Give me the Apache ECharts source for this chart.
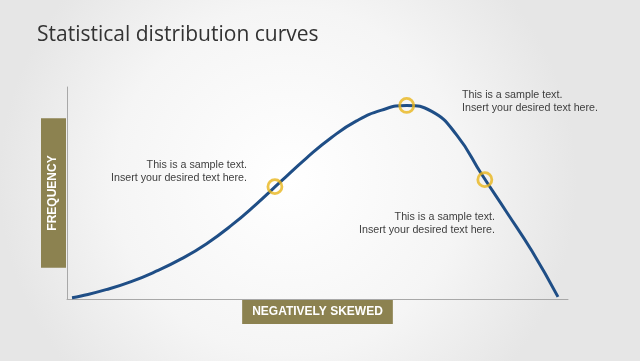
<!DOCTYPE html>
<html><head><meta charset="utf-8">
<script src="https://cdn.jsdelivr.net/npm/echarts@6/dist/echarts.min.js"></script>
<style>html,body{margin:0;padding:0;}#c{width:640px;height:361px;}</style>
</head><body><div id="c"></div>
<script>
const titleText = 'Statistical distribution curves';
const xAxisName = 'NEGATIVELY SKEWED';
const yAxisName = 'FREQUENCY';
// curve samples (x: value along axis 0-100, y: frequency 0-100)
const curveX = [1, 2.8, 7.8, 12.8, 17.8, 22.8, 27.8, 32.8, 37.8, 42.8, 47.8, 52.8, 57.8, 62.8, 67.8, 72.8, 77.8, 82.8, 87.8, 92.8, 98];
const curveY = [0.6, 1.4, 4.4, 8.2, 13.1, 18.9, 26.0, 34.7, 44.8, 55.7, 66.5, 76.2, 84.0, 89.1, 91.3, 88.5, 77.3, 58.7, 40.8, 22.6, 1.0];
// highlighted points
const markX = [41.5, 67.8, 83.4];
const markY = [53.0, 91.3, 56.3];
const noteLine1 = 'This is a sample text.';
const noteLine2 = 'Insert your desired text here.';

const chart = echarts.init(document.getElementById('c'), null, {renderer: 'canvas'});
const olive = '#8c8250';
const noteStyle = {fontFamily: 'Liberation Sans, Arial', fontSize: 10.7, fill: '#404040', lineHeight: 13};
chart.setOption({
  backgroundColor: {
    type: 'radial', x: 0.45, y: 0.5, r: 0.8,
    colorStops: [{offset: 0, color: '#ffffff'}, {offset: 0.6, color: '#f5f5f5'}, {offset: 1, color: '#e6e6e6'}]
  },
  animation: false,
  title: {
    text: titleText, left: 32, top: 20,
    textStyle: {fontFamily: 'Open Sans', fontWeight: 'normal', fontSize: 21, color: '#333333'}
  },
  grid: {left: 67, right: 72, top: 87, bottom: 62, containLabel: false},
  xAxis: {
    type: 'value', min: 0, max: 100,
    name: xAxisName, nameLocation: 'middle', nameGap: 1,
    nameTextStyle: {color: '#ffffff', fontFamily: 'Liberation Sans, Arial', fontWeight: 'bold', fontSize: 12,
      backgroundColor: olive, padding: [6, 10, 6, 10]},
    axisLine: {show: true, lineStyle: {color: '#a8a8a8', width: 1}},
    axisTick: {show: false}, axisLabel: {show: false}, splitLine: {show: false}
  },
  yAxis: {
    type: 'value', min: 0, max: 100,
    name: yAxisName, nameLocation: 'middle', nameGap: 1,
    nameTextStyle: {color: '#ffffff', fontFamily: 'Liberation Sans, Arial', fontWeight: 'bold', fontSize: 12,
      backgroundColor: olive, padding: [6, 37, 7, 37]},
    axisLine: {show: true, lineStyle: {color: '#a8a8a8', width: 1}},
    axisTick: {show: false}, axisLabel: {show: false}, splitLine: {show: false}
  },
  series: [
    {
      type: 'line', smooth: 0.5, symbol: 'none',
      data: curveX.map((x, i) => [x, curveY[i]]),
      lineStyle: {color: '#1f4e86', width: 3}
    },
    {
      type: 'scatter', symbol: 'circle', symbolSize: 14, z: 5,
      data: markX.map((x, i) => [x, markY[i]]),
      itemStyle: {color: 'rgba(0,0,0,0)', borderColor: '#e8b51c', borderWidth: 2.8}
    }
  ],
  graphic: [
    {type: 'text', x: 247, y: 159, style: Object.assign({text: noteLine1 + '\n' + noteLine2, align: 'right'}, noteStyle)},
    {type: 'text', x: 462, y: 89, style: Object.assign({text: noteLine1 + '\n' + noteLine2, align: 'left'}, noteStyle)},
    {type: 'text', x: 495, y: 211, style: Object.assign({text: noteLine1 + '\n' + noteLine2, align: 'right'}, noteStyle)}
  ]
});
</script></body></html>
